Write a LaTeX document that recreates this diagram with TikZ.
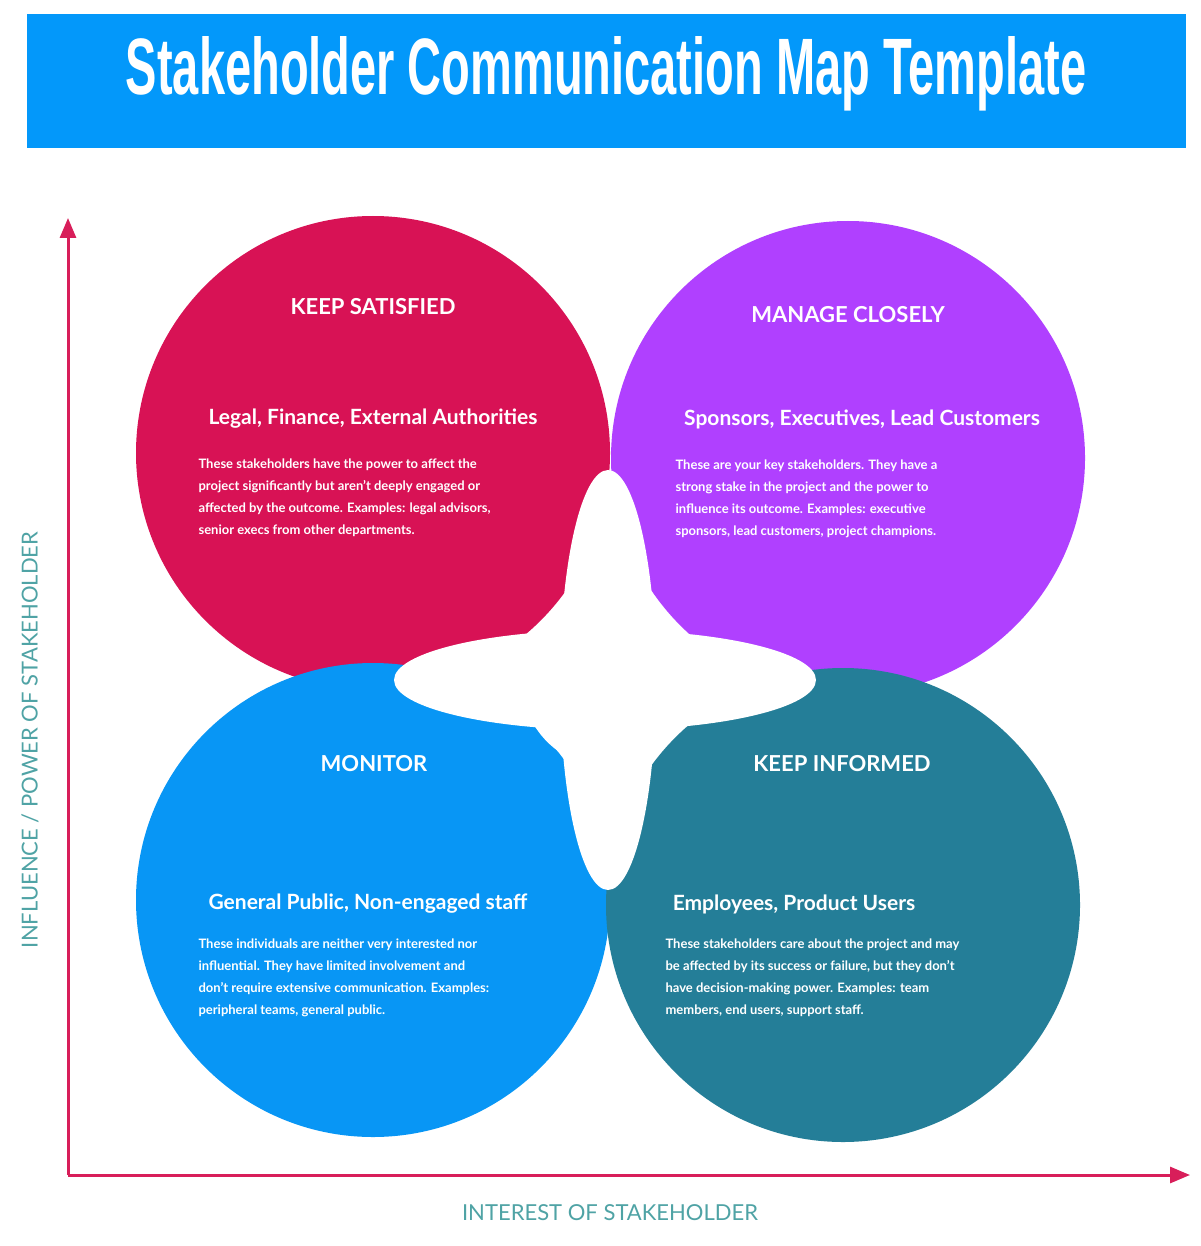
\documentclass[tikz,border=0pt]{standalone}
\usepackage{fontspec}
\usepackage{graphicx}
\setmainfont{Lato}
\newfontfamily\titlefont{Liberation Sans}
\definecolor{titleblue}{RGB}{3,152,250}
\definecolor{cred}{RGB}{216,18,85}
\definecolor{cpurple}{RGB}{176,64,255}
\definecolor{cblue}{RGB}{8,150,245}
\definecolor{cteal}{RGB}{36,126,152}
\definecolor{axisteal}{RGB}{79,163,165}
\definecolor{axisred}{RGB}{216,30,90}
\usetikzlibrary{arrows.meta}
\begin{document}
\begin{tikzpicture}[x=1pt,y=-1pt,
  head/.style={text=white,font=\bfseries\fontsize{22}{24}\selectfont},
  sub/.style={text=white,font=\bfseries\fontsize{21}{24}\selectfont},
  desc/.style={text=white,font=\bfseries\fontsize{13}{22}\selectfont,align=left,anchor=north west},
  axlabel/.style={text=axisteal,font=\fontsize{22}{24}\selectfont},
  axisline/.style={axisred,line width=3pt,-{Triangle[length=20pt,width=16pt]}}]
\useasboundingbox (0,0) rectangle (1200,1246);
\fill[white] (0,0) rectangle (1200,1246);
\fill[titleblue] (27,14) rectangle (1186,148);
\node[text=white] (title) at (606,74) {\resizebox{960pt}{58pt}{\titlefont\bfseries Stakeholder Communication Map Template}};
% circles
\fill[cred] (373,453) circle (237);
\fill[cpurple] (848,458) circle (237);
\fill[cblue] (373,900) circle (237);
\fill[cteal] (843,905) circle (237);
% centre white star
\fill[white] (608,680) ellipse (48 and 210);
\fill[white] (605,680) ellipse (211 and 50);
\fill[white] (608,681) circle (86);
% axes
\coordinate (o) at (68,1175);
\coordinate (ytop) at (68,218);
\coordinate (xend) at (1190,1175);
\draw[axisline] (o) -- (ytop);
\draw[axisline] (o) -- (xend);
\node[axlabel,rotate=90] (ylab) at (30,740) {INFLUENCE / POWER OF STAKEHOLDER};
\node[axlabel] (xlab) at (610,1213) {INTEREST OF STAKEHOLDER};
% texts
\node[head] (h1) at (373,307) {KEEP SATISFIED};
\node[sub] (s1) at (373,419) {Legal, Finance, External Authorities};
\node[desc] (d1) at (195,455) {These stakeholders have the power to affect the\\project significantly but aren't deeply engaged or\\affected by the outcome. Examples: legal advisors,\\senior execs from other departments.};
\node[head] (h2) at (848,315) {MANAGE CLOSELY};
\node[sub] (s2) at (862,419) {Sponsors, Executives, Lead Customers};
\node[desc] (d2) at (672,456) {These are your key stakeholders. They have a\\strong stake in the project and the power to\\influence its outcome. Examples: executive\\sponsors, lead customers, project champions.};
\node[head] (h3) at (374,764) {MONITOR};
\node[sub] (s3) at (368,904) {General Public, Non-engaged staff};
\node[desc] (d3) at (195,935) {These individuals are neither very interested nor\\influential. They have limited involvement and\\don't require extensive communication. Examples:\\peripheral teams, general public.};
\node[head] (h4) at (842,764) {KEEP INFORMED};
\node[sub] (s4) at (794,904) {Employees, Product Users};
\node[desc] (d4) at (662,935) {These stakeholders care about the project and may\\be affected by its success or failure, but they don't\\have decision-making power. Examples: team\\members, end users, support staff.};
\end{tikzpicture}
\end{document}
